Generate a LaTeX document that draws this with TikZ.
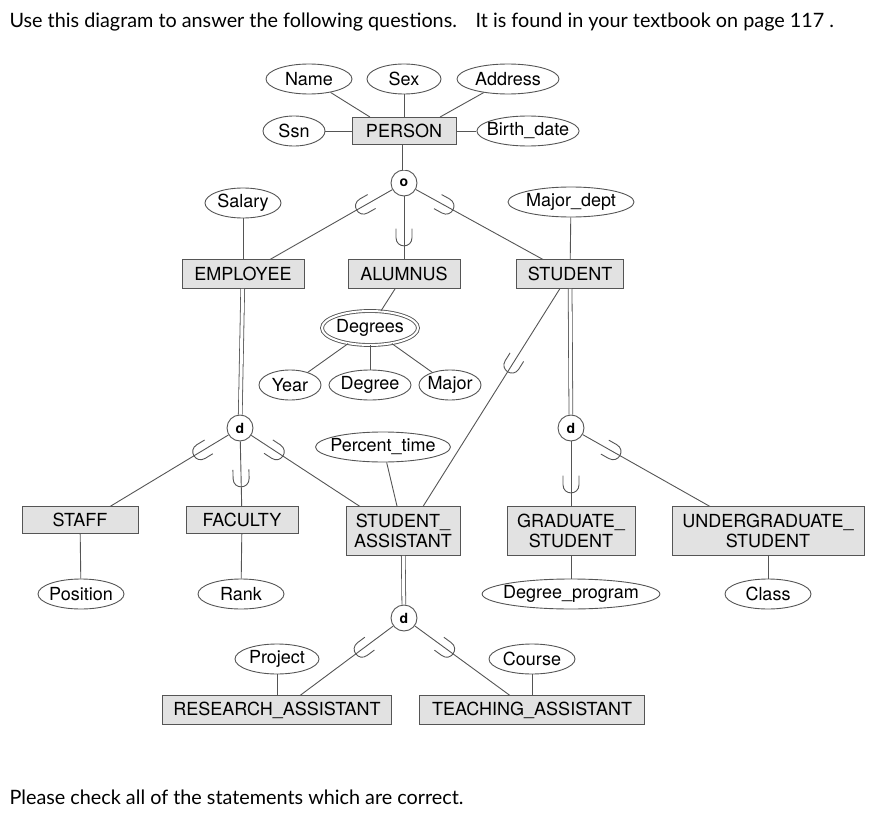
\documentclass[tikz,border=0pt]{standalone}
\usepackage{fontspec}
\setmainfont{TeX Gyre Heros}
\newfontfamily\latofont{Lato}
\usetikzlibrary{shapes.geometric,calc}
\definecolor{ln}{HTML}{555555}
\definecolor{bx}{HTML}{E2E2E2}
\newcommand\submark[3]{%
  \coordinate (sm) at ($(#1)!#3!(#2)$);
  \coordinate (sf) at ($(sm)!9pt!(#1)$);
  \coordinate (sb) at ($(sm)!-11pt!(#1)$);
  \coordinate (sp1) at ($(sm)!8pt!90:(#1)$);
  \coordinate (sp2) at ($(sm)!8pt!-90:(#1)$);
  \draw[ln, line width=0.9pt] ($(sp1)+(sf)-(sm)$) -- (sp1) .. controls ($(sp1)+(sb)-(sm)$) and ($(sp2)+(sb)-(sm)$) .. (sp2) -- ($(sp2)+(sf)-(sm)$);
}
\begin{document}
\begin{tikzpicture}[x=1pt,y=-1pt,
  every node/.style={font=\fontsize{18}{20}\selectfont, text=black},
  ent/.style={draw=ln, fill=bx, line width=0.9pt, rectangle, inner sep=0pt, align=center},
  att/.style={draw=ln, ellipse, line width=0.9pt, inner ysep=0pt, inner xsep=-5pt, minimum height=30},
  dc/.style={draw=ln, circle, line width=0.9pt, minimum size=26, inner sep=0pt, font=\bfseries\fontsize{14}{16}\selectfont},
  l/.style={draw=ln, line width=0.9pt},
  dbl/.style={draw=ln, double distance=3pt, line width=0.8pt}
]
\useasboundingbox (0,0) rectangle (884,824);
\node[anchor=west, font=\latofont\fontsize{19.8}{22}\selectfont] (hdr) at (6,22) {Use this diagram to answer the following questions.\hspace{0.6em} It is found in your textbook on page 117 .};
\node[anchor=west, font=\latofont\fontsize{19.8}{22}\selectfont] (ftr) at (6,797) {Please check all of the statements which are correct.};

% entities
\node[ent, minimum width=104, minimum height=27] (person) at (404,131) {PERSON};
\node[ent, minimum width=122, minimum height=29] (emp) at (243,274) {EMPLOYEE};
\node[ent, minimum width=112, minimum height=29] (alum) at (404,274) {ALUMNUS};
\node[ent, minimum width=107, minimum height=29] (stud) at (570,274) {STUDENT};
\node[ent, minimum width=116, minimum height=27] (staff) at (80,520) {STAFF};
\node[ent, minimum width=112, minimum height=27] (fac) at (242,520) {FACULTY};
\node[ent, minimum width=114, minimum height=49] (sa) at (403,531) {STUDENT\_\\ASSISTANT};
\node[ent, minimum width=128, minimum height=49] (gs) at (571,531) {GRADUATE\_\\STUDENT};
\node[ent, minimum width=192, minimum height=49] (ug) at (768,531) {UNDERGRADUATE\_\\STUDENT};
\node[ent, minimum width=229, minimum height=29] (ra) at (277,710) {RESEARCH\_ASSISTANT};
\node[ent, minimum width=225, minimum height=29] (ta) at (532,710) {TEACHING\_ASSISTANT};

% attributes
\node[att, minimum width=86] (name) at (309,79) {Name};
\node[att, minimum width=74] (sex) at (404,79) {Sex};
\node[att, minimum width=102] (addr) at (508,79) {Address};
\node[att, minimum width=62] (ssn) at (294,131) {Ssn};
\node[att, minimum width=98] (bd) at (528,131) {Birth\_date};
\node[att, minimum width=76] (sal) at (243,203) {Salary};
\node[att, minimum width=126] (mdep) at (571,202) {Major\_dept};
\node[att, minimum width=96, minimum height=34, double=white, double distance=2pt] (degs) at (370,328) {Degrees};
\node[att, minimum width=62] (year) at (290,385) {Year};
\node[att, minimum width=82] (deg) at (370,385) {Degree};
\node[att, minimum width=62] (maj) at (450,385) {Major};
\node[att, minimum width=126] (pt) at (383,447) {Percent\_time};
\node[att, minimum width=86] (pos) at (81,594) {Position};
\node[att, minimum width=86] (rank) at (241,594) {Rank};
\node[att, minimum width=164] (dp) at (571,594) {Degree\_program};
\node[att, minimum width=86] (cls) at (768,594) {Class};
\node[att, minimum width=84] (proj) at (277,659) {Project};
\node[att, minimum width=86] (crs) at (532,659) {Course};

% circles
\node[dc] (o) at (404,183) {o};
\node[dc] (d1) at (240,428) {d};
\node[dc] (d2) at (571,428) {d};
\node[dc] (d3) at (404,618) {d};

% attribute links
\draw[l] (name) -- (person.north -| 370,0) ;
\draw[l] (sex) -- (person);
\draw[l] (addr) -- (person.north -| 440,0);
\draw[l] (ssn) -- (person);
\draw[l] (bd) -- (person);
\draw[l] (sal) -- (emp);
\draw[l] (mdep) -- (stud);
\draw[l] (alum.south -| 395,0) -- (degs);
\draw[l] (degs) -- (year);
\draw[l] (degs) -- (deg);
\draw[l] (degs) -- (maj);
\draw[l] (pt) -- (sa.north -| 397,0);
\draw[l] (fac) -- (rank);
\draw[l] (staff) -- (pos);
\draw[l] (gs) -- (dp);
\draw[l] (ug) -- (cls);
\draw[l] (proj) -- (ra.north -| 277,0);
\draw[l] (crs) -- (ta.north -| 532,0);

% specializations
\draw[dbl] (person) -- (o);
\coordinate (eT) at (270,259.5);
\coordinate (sT) at (543,259.5);
\coordinate (stT) at (110,506.5);
\coordinate (saL) at (360,506.5);
\coordinate (ugT) at (710,506.5);
\coordinate (sB) at (560,288.5);
\coordinate (saR) at (423,506.5);
\coordinate (raT) at (300,695.5);
\coordinate (taT) at (510,695.5);
\draw[l] (o) -- (eT); \submark{o}{eT}{0.3}
\draw[l] (o) -- (alum); \submark{o}{alum}{0.6}
\draw[l] (o) -- (sT); \submark{o}{sT}{0.3}
\draw[dbl] (emp) -- (d1);
\draw[l] (d1) -- (stT); \submark{d1}{stT}{0.3}
\draw[l] (d1) -- (fac); \submark{d1}{fac}{0.55}
\draw[l] (d1) -- (saL); \submark{d1}{saL}{0.3}
\draw[dbl] (stud) -- (d2);
\draw[l] (d2) -- (gs); \submark{d2}{gs}{0.55}
\draw[l] (d2) -- (ugT); \submark{d2}{ugT}{0.3}
\draw[l] (sB) -- (saR); \submark{sB}{saR}{0.35}
\draw[dbl] (sa) -- (d3);
\draw[l] (d3) -- (raT); \submark{d3}{raT}{0.4}
\draw[l] (d3) -- (taT); \submark{d3}{taT}{0.4}
\end{tikzpicture}
\end{document}
